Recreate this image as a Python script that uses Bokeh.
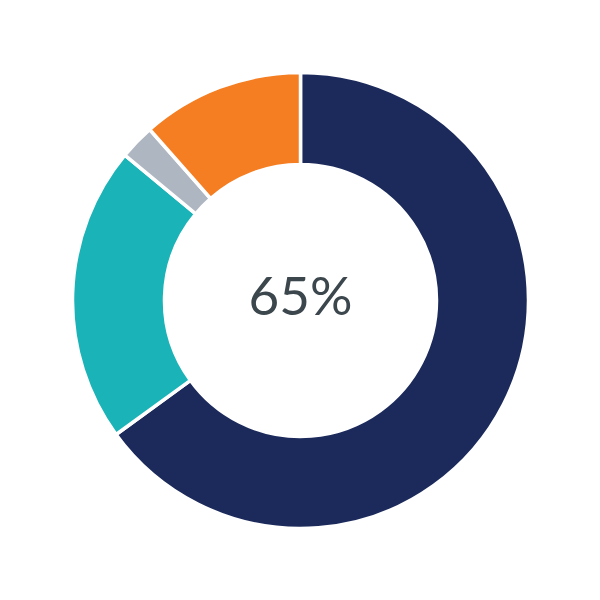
import math
from bokeh.plotting import figure
from bokeh.models import Range1d, ColumnDataSource
from bokeh.core.properties import value
from bokeh.embed import file_html
from bokeh.resources import INLINE

categories = ["Navy", "Teal", "Gray", "Orange"]
shares = [65, 21, 2.5, 11.5]
colors = ["#1b2a5b", "#1ab3b7", "#aeb6c1", "#f47e21"]
center_label = "65%"

total = sum(shares)
starts, ends = [], []
acc = 0.0
for s in shares:
    a0 = math.pi / 2 - 2 * math.pi * acc / total
    acc += s
    a1 = math.pi / 2 - 2 * math.pi * acc / total
    starts.append(a0)
    ends.append(a1)

src = ColumnDataSource(dict(cat=categories, start=starts, end=ends, color=colors))

p = figure(width=584, height=584, output_backend="svg", toolbar_location=None,
           x_range=Range1d(-300, 284), y_range=Range1d(-284, 300), min_border=0)
p.axis.visible = False
p.grid.visible = False
p.outline_line_color = None
p.background_fill_color = "white"

p.annular_wedge(x=0, y=0, inner_radius=136, outer_radius=228,
                start_angle="start", end_angle="end", direction="clock",
                fill_color="color", line_color="white", line_width=3.5, source=src)

p.text(x=[0], y=[6], text=[center_label], text_font=value("Lato"),
       text_font_size="53px", text_color="#3b474d", text_align="center",
       text_baseline="middle")

open("out.html", "w").write(file_html(p, INLINE))
